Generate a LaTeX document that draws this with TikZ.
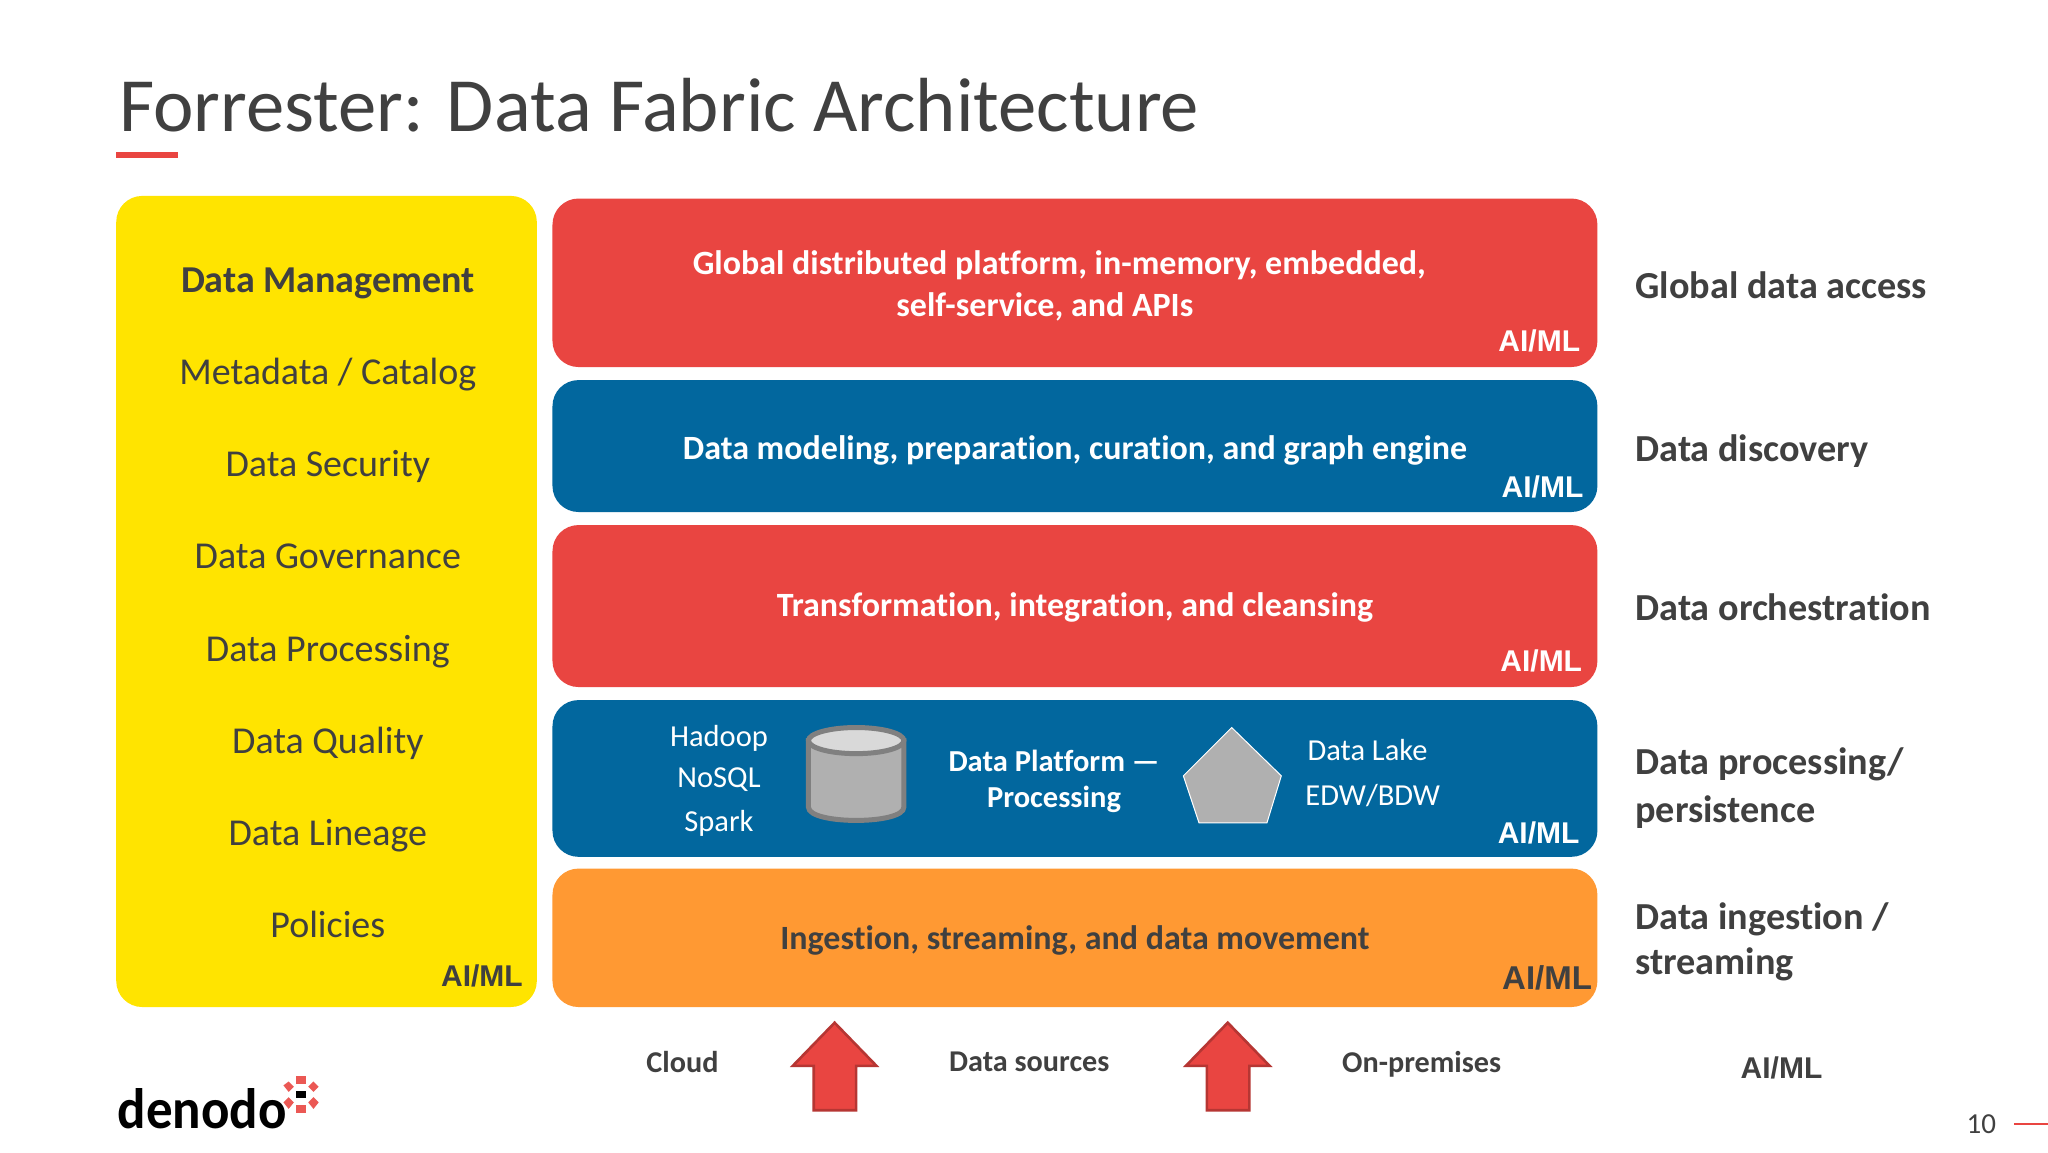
\documentclass[tikz,border=0pt]{standalone}
\usepackage{fontspec}
\setmainfont{Carlito}[Ligatures=NoCommon]
\newfontfamily\aiml{Liberation Sans}
\definecolor{cred}{HTML}{E94541}
\definecolor{cblue}{HTML}{02679E}
\definecolor{cyel}{HTML}{FFE400}
\definecolor{corg}{HTML}{FF9933}
\definecolor{ink}{HTML}{404040}
\newcommand{\fs}[1]{\fontsize{#1}{#1}\selectfont}
\tikzset{
 x=1.30612pt,y=-1.30612pt,
 panel/.style={rounded corners=26pt,draw=none},
 lab/.style={text=ink,font=\fs{38.2}\bfseries,anchor=west,align=left,inner sep=0pt},
 yitem/.style={text=ink,font=\fs{38},inner sep=0pt,anchor=center},
 band/.style={text=white,font=\fs{34}\bfseries,inner sep=0pt,anchor=center,align=center},
 bandd/.style={text=ink,font=\fs{34}\bfseries,inner sep=0pt,anchor=center,align=center},
 small/.style={text=white,font=\fs{30.5},inner sep=0pt,anchor=center},
 platform/.style={text=white,font=\fs{30.5}\bfseries,inner sep=0pt,anchor=center},
 src/.style={text=ink,font=\fs{30.2}\bfseries,inner sep=0pt,anchor=center},
 ai/.style={font=\aiml\fs{30}\bfseries,inner sep=0pt,anchor=center},
 arrowbody/.style={fill=cred,draw=cred!78!black,line width=2.6pt,line join=miter},
 dot/.style={fill=cred!90!white,draw=none}
}
\begin{document}
\begin{tikzpicture}
\useasboundingbox (0,0) rectangle (1568,882);
\fill[white] (0,0) rectangle (1568,882);
\node[text=ink,font=\fs{76.7},anchor=base west,inner sep=0pt] (title) at (91,101) {Forrester: Data Fabric Architecture};
\fill[cred] (89,116) rectangle (136,121);
% panels
\fill[cyel,panel] (89,150) rectangle (411,771);
\fill[cred,panel] (423,152) rectangle (1223,281);
\fill[cblue,panel] (423,291) rectangle (1223,392);
\fill[cred,panel] (423,402) rectangle (1223,526);
\fill[cblue,panel] (423,536) rectangle (1223,656);
\fill[corg,panel] (423,665) rectangle (1223,771);
% left
\node[yitem,font=\fs{38}\bfseries] (y0) at (251,217) {Data Management};
\node[yitem] (y1) at (251,287) {Metadata / Catalog};
\node[yitem] (y2) at (251,357) {Data Security};
\node[yitem] (y3) at (251,426) {Data Governance};
\node[yitem] (y4) at (251,499) {Data Processing};
\node[yitem] (y5) at (251,569) {Data Quality};
\node[yitem] (y6) at (251,640) {Data Lineage};
\node[yitem] (y7) at (251,708) {Policies};
\node[ai,text=ink] (a0) at (369,747) {AI/ML};
% bands
\node[band] (b1) at (811,203) {Global distributed platform, in-memory, embedded,};
\node[band] (b1b) at (800,235) {self-service, and APIs};
\node[band] (b2) at (823,345) {Data modeling, preparation, curation, and graph engine};
\node[band] (b3) at (823,465) {Transformation, integration, and cleansing};
\node[bandd] (b5) at (823,720) {Ingestion, streaming, and data movement};
\node[ai,text=white] (a1) at (1178.5,261) {AI/ML};
\node[ai,text=white] (a2) at (1181,373) {AI/ML};
\node[ai,text=white] (a3) at (1180,506) {AI/ML};
\node[ai,text=white] (a4) at (1178,638) {AI/ML};
\node[ai,text=ink,font=\aiml\fs{33}\bfseries] (a5) at (1184.5,749) {AI/ML};
% blue row
\node[small] (h1) at (550.5,565) {Hadoop};
\node[small] (h2) at (550.5,597) {NoSQL};
\node[small] (h3) at (550.5,630) {Spark};
\draw[fill=black!31,draw=black!50,line width=5pt] (619,567) -- (619,618) .. controls (619,631.5) and (692,631.5) .. (692,618) -- (692,567) -- cycle;
\draw[fill=black!15,draw=black!50,line width=5pt] (655.5,567) ellipse[x radius=36.5,y radius=10];
\node[platform] (p1) at (807,582.5) {Data Platform —};
\node[platform] (p2) at (807,612) {Processing};
\filldraw[fill=black!31,draw=white,line width=1pt] (943,557) -- (981,594) -- (970,630) -- (918,630) -- (906,594) -- cycle;
\node[small] (l1) at (1047,574.5) {Data Lake};
\node[small] (l2) at (1051,609) {EDW/BDW};
% right
\node[lab] (r1) at (1252,218) {Global data access};
\node[lab] (r2) at (1252,345) {Data discovery};
\node[lab] (r3) at (1252,465) {Data orchestration};
\node[lab] (r4) at (1252,585) {Data processing/};
\node[lab] (r4b) at (1252,622) {persistence};
\node[lab] (r5) at (1252,704) {Data ingestion /};
\node[lab] (r5b) at (1252,738) {streaming};
\node[ai,text=ink] (a6) at (1364,818) {AI/ML};
% bottom
\node[src] (s1) at (522.5,813) {Cloud};
\node[src] (s2) at (788,813) {Data sources};
\node[src] (s3) at (1088.5,815) {On-premises};
\draw[arrowbody] (639,783) -- (671,816) -- (655.5,816) -- (655.5,850) -- (623,850) -- (623,816) -- (607,816) -- cycle;
\draw[arrowbody] (940,783) -- (972,816) -- (956.5,816) -- (956.5,850) -- (924,850) -- (924,816) -- (908,816) -- cycle;
% logo
\node[text=black,font=\fs{57}\bfseries,anchor=base west,inner sep=0pt,xscale=0.93] (logo) at (90,864) {denodo};
\fill[black] (227,835) rectangle (234,841);
\fill[dot] (227,824) rectangle (234,830);
\fill[dot] (227,846) rectangle (234,852);
\fill[dot] (217,831) -- (221,828) -- (225,832) -- (221,836) -- cycle;
\fill[dot] (240,828) -- (244,832) -- (240,836) -- (236,832) -- cycle;
\fill[dot] (221,840) -- (225,844) -- (221,849) -- (217,844) -- cycle;
\fill[dot] (240,840) -- (244,844) -- (240,849) -- (236,844) -- cycle;
% page
\node[text=ink,font=\fs{29},inner sep=0pt,anchor=center] (pg) at (1517,861) {10};
\fill[cred] (1542,860) rectangle (1568,861.5);
\end{tikzpicture}
\end{document}
